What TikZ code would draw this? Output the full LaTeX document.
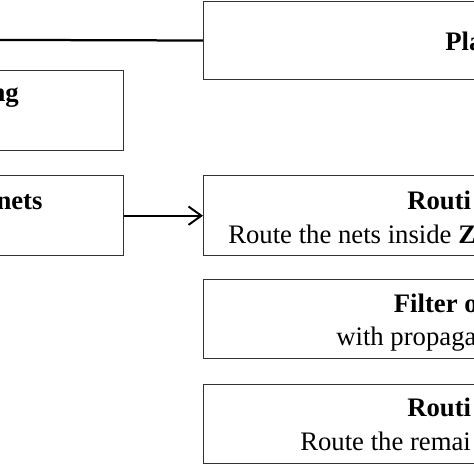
\documentclass[tikz,border=0pt]{standalone}
\usepackage{fontspec}
\setmainfont{Liberation Serif}
\usepackage{tikz}
\usetikzlibrary{positioning, arrows.meta}

\begin{document}
\begin{tikzpicture}[
    box/.style={draw=black!80, line width=1pt, anchor=north west, inner sep=0pt,
                minimum width=9cm, minimum height=2cm},
    txt/.style={anchor=base west, inner sep=0pt, font=\fontsize{19}{23}\selectfont},
    titletxt/.style={txt, font=\fontsize{19}{23}\selectfont\bfseries}
]
    \path[use as bounding box, clip] (0,0) rectangle (11.85,-11.85);

    % Left column blocks
    \node[box, minimum width=9.075cm] (leftA) at (-6,-1.75) {};
    \node[box, minimum width=9.075cm] (leftB) at (-6,-4.375) {};
    \node[titletxt, anchor=base east] (leftAtxt) at (0.475,-2.525) {ng};
    \node[titletxt, anchor=base east] (leftBtxt) at (1.07,-5.225) {nets};

    % Right column blocks
    \node[box, minimum height=1.95cm] (place) at (5.075,-0.02) {};
    \node[box] (route1) at (5.075,-4.375) {};
    \node[box, minimum height=1.975cm] (filter) at (5.075,-6.975) {};
    \node[box, minimum height=1.975cm] (route2) at (5.075,-9.6) {};

    % Texts inside right blocks
    \node[titletxt] (placetxt) at (11.125,-1.25) {Pla};
    \node[titletxt] (route1ttl) at (10.175,-5.23) {Routi};
    \node[txt] (route1txt) at (5.7,-6.075) {Route the nets inside \textbf{Z}};
    \node[titletxt] (filterttl) at (9.84,-7.8) {Filter o};
    \node[txt, anchor=base east] (filtertxt) at (11.92,-8.625) {with propaga};
    \node[titletxt] (route2ttl) at (10.175,-10.42) {Routi};
    \node[txt] (route2txt) at (7.5,-11.25) {Route the remai};

    % Connections
    \coordinate (lineL) at (-1,-0.995);
    \draw[line width=1.6pt] (lineL) -- (place.west);
    \draw[line width=1.4pt, -{Straight Barb[length=3.2mm, width=4.6mm]}] (leftB.east) -- (route1.west);
\end{tikzpicture}
\end{document}
